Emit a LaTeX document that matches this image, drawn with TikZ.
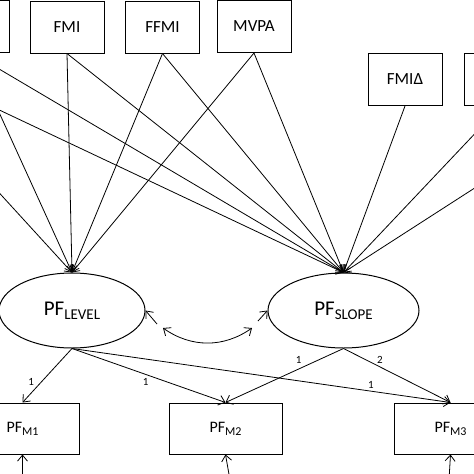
\documentclass[tikz,border=0pt]{standalone}
\usepackage{fontspec}
\setmainfont{Carlito}
\usetikzlibrary{arrows.meta,shapes.geometric}
\begin{document}
\begin{tikzpicture}[x=1pt,y=-1pt,
  box/.style={draw, line width=1pt, minimum width=74pt, minimum height=52pt, inner sep=0pt, font=\fontsize{17}{17}\selectfont},
  mbox/.style={draw, line width=1pt, minimum width=113pt, minimum height=51pt, inner sep=0pt, font=\fontsize{16}{16}\selectfont},
  lat/.style={draw, ellipse, line width=1pt, inner sep=0pt, font=\fontsize{21}{21}\selectfont},
  pth/.style={draw, line width=0.8pt, -{Straight Barb[length=6pt,width=10pt]}},
  dbl/.style={draw, line width=0.8pt, {Straight Barb[length=6pt,width=10pt]}-{Straight Barb[length=6pt,width=10pt]}},
  lab/.style={font=\fontsize{11}{11}\selectfont, inner sep=1pt}]
\useasboundingbox (0,0) rectangle (474,474);
\clip (0,0) rectangle (474,474);
% top boxes
\node[box] (b0) at (-28,26.5) {};
\node[box] (fmi) at (67,27) {FMI};
\node[box] (ffmi) at (162.5,27) {FFMI};
\node[box] (mvpa) at (254,26.5) {MVPA};
\node[box] (fmid) at (405,79.5) {FMIΔ};
\node[box] (b5) at (501,79.5) {};
\coordinate (s1) at (-60,82);
\coordinate (s2) at (-50,139);
\coordinate (s3) at (602,106);
% latent variables
\node[lat, minimum width=146pt, minimum height=75pt] (lev) at (72,310.5)
  {PF\raisebox{-0.4ex}{\fontsize{15}{15}\selectfont LEVEL}};
\node[lat, minimum width=151pt, minimum height=75pt] (slo) at (343.5,310.5)
  {PF\raisebox{-0.4ex}{\fontsize{15}{15}\selectfont SLOPE}};
% measurement boxes
\node[mbox] (m1) at (22.5,428.5) {PF\raisebox{-0.4ex}{\fontsize{12}{12}\selectfont M1}};
\node[mbox] (m2) at (225.5,428.5) {PF\raisebox{-0.4ex}{\fontsize{12}{12}\selectfont M2}};
\node[mbox] (m3) at (450.5,428.5) {PF\raisebox{-0.4ex}{\fontsize{12}{12}\selectfont M3}};
% predictors to level
\draw[pth] (b0.south) -- (lev.north);
\draw[pth] (s2) -- (lev.north);
\draw[pth] (fmi.south) -- (lev.north);
\draw[pth] (ffmi.south) -- (lev.north);
\draw[pth] (mvpa.south) -- (lev.north);
% predictors to slope
\draw[pth] (b0.south) -- (slo.north);
\draw[pth] (s1) -- (slo.north);
\draw[pth] (fmi.south) -- (slo.north);
\draw[pth] (ffmi.south) -- (slo.north);
\draw[pth] (mvpa.south) -- (slo.north);
\draw[pth] (fmid.south) -- (slo.north);
\draw[pth] (b5.south) -- (slo.north);
\draw[pth] (s3) -- (slo.north);
% covariance
\coordinate (c1) at (163,328);
\coordinate (c2) at (252,328);
\coordinate (c3) at (157,324);
\coordinate (c4) at (258,321);
\draw[dbl] (c1) to[bend right=35] (c2);
\draw[pth] (c3) -- (lev.east);
\draw[pth] (c4) -- (slo.west);
% loadings
\draw[pth] (lev.south) -- node[lab, pos=0.62, left=6pt] {1} (m1.north);
\draw[pth] (lev.south) -- node[lab, pos=0.48, below=3pt] {1} (m2.north);
\draw[pth] (lev.south) -- node[lab, pos=0.79, above=1pt] {1} (m3.north);
\draw[pth] (slo.south) -- node[lab, pos=0.38, above=4pt] {1} (m2.north);
\draw[pth] (slo.south) -- node[lab, pos=0.34, above=2pt] {2} (m3.north);
% residuals
\coordinate (e1) at (22.5,480);
\coordinate (e2) at (230,480);
\coordinate (e3) at (449,480);
\draw[pth] (e1) -- (m1.south);
\draw[pth] (e2) -- (m2.south);
\draw[pth] (e3) -- (m3.south);
\end{tikzpicture}
\end{document}
